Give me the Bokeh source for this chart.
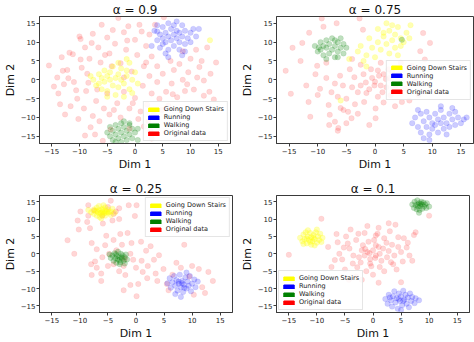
from bokeh.plotting import figure
from bokeh.layouts import column, row
from bokeh.models import Range1d, FixedTicker, CustomJSTickFormatter, Legend, LegendItem
from bokeh.embed import file_html
from bokeh.resources import INLINE

TITLES = ["α = 0.9", "α = 0.75", "α = 0.25", "α = 0.1"]
CLASS_NAMES = ["Going Down Stairs", "Running", "Walking", "Original data"]
TICKS = [-15, -10, -5, 0, 5, 10, 15]

# ---- panel 1 (alpha = 0.9) ----
P1_RED = [(-15.5,3.8),(-14.6,-1.8),(-13.8,-3.6),(-13.5,-6.5),(-13.2,6.0),(-13.0,2.4),(-12.6,-9.2),(-12.0,0.4),(-11.8,7.2),(-11.2,6.8),(-11.0,-0.6),(-10.6,-2.8),(-10.4,-5.0),(-10.2,-10.4),(-9.8,10.8),(-9.6,3.2),(-9.2,-7.6),(-9.0,8.6),(-8.8,-3.0),(-8.6,1.6),(-8.2,5.6),(-8.0,-12.6),(-7.6,12.2),(-7.6,-9.6),(-7.2,-14.5),(-7.0,-5.6),(-6.6,8.6),(-6.4,-11.0),(-6.2,4.6),(-6.0,14.6),(-5.8,-16.2),(-5.6,-7.6),(-5.0,11.2),(-5.0,-3.6),(-4.6,7.0),(-4.6,-9.2),(-4.0,13.2),(-3.6,9.6),(-3.2,-6.2),(-3.0,16.4),(-2.6,4.4),(-2.6,-10.0),(-2.0,12.6),(-2.0,-3.2),(-1.6,8.0),(-1.2,14.2),(-1.0,-7.6),(-0.6,2.2),(0.0,10.6),(0.0,-4.8),(0.4,6.6),(0.6,-10.4),(0.8,14.6),(1.4,-1.6),(1.6,3.6),(2.0,9.0),(2.2,-6.6),(2.6,12.0),(2.6,1.0),(3.0,-3.6),(3.0,6.2),(3.4,-9.2),(3.0,-15.6),(1.6,-12.4),(4.0,3.6),(4.0,-0.6),(4.4,-5.0),(5.0,1.6),(5.6,-3.2),(5.2,16.6),(6.4,5.0),(6.6,-1.0),(7.0,2.6),(7.6,-4.6),(8.0,4.2),(8.6,0.0),(9.6,2.0),(10.0,5.6),(10.6,-2.6),(11.2,0.6),(12.0,5.0),(12.4,-0.2),(13.0,8.6),(13.6,1.6),(13.4,-3.2),(14.6,4.6),(14.2,-5.2),(12.4,-4.2),(11.0,8.0),(-12.2,2.6),(-10.0,11.5),(-4.2,3.6),(-1.0,-13.0),(-9.0,-14.8),(4.8,-8.0),(6.0,-6.8),(9.0,-3.0),(8.6,7.6),(2.0,4.6),(-2.0,0.6),(-14.0,0.6),(-11.6,-7.0),(-8.4,-0.8),(-6.8,-2.6),(-5.4,6.6),(-3.8,-8.0),(-0.4,-6.2),(1.0,-8.4),(2.4,-11.0),(-1.4,10.4),(1.2,12.8),(3.6,14.6),(6.8,-3.8),(9.4,-1.2),(11.6,3.4),(-12.8,-1.2),(-9.8,5.4),(-7.8,9.8),(-4.4,-13.2),(2.8,-13.6)]
P1_YEL = [(-8.0,1.0),(-7.5,0.0),(-7.0,-1.5),(-6.5,1.5),(-6.0,0.5),(-6.0,-2.5),(-5.5,2.5),(-5.5,-0.5),(-5.0,1.0),(-5.0,-3.0),(-4.5,0.0),(-4.5,2.0),(-4.0,-1.5),(-4.0,3.5),(-3.5,0.5),(-3.5,-4.0),(-3.0,1.5),(-3.0,-2.0),(-2.5,0.0),(-2.5,3.0),(-2.0,-1.0),(-2.0,-4.5),(-1.5,1.0),(-1.5,2.5),(-1.0,-2.5),(-1.0,4.5),(-0.5,0.0),(0.0,2.0),(-0.5,-3.5),(-1.5,5.5),(-5.0,-4.5),(-6.5,-1.0),(0.5,-1.0),(13.5,10.5),(-3.0,4.5)]
P1_BLU = [(3.5,13.0),(4.0,14.5),(4.0,10.5),(4.5,12.0),(4.5,8.5),(5.0,14.0),(5.0,11.0),(5.0,9.5),(5.5,12.5),(5.5,10.0),(6.0,15.0),(6.0,11.5),(6.0,8.0),(6.5,13.5),(6.5,10.5),(7.0,12.0),(7.0,9.0),(7.0,14.5),(7.5,11.0),(7.5,13.0),(8.0,10.0),(8.0,8.0),(8.0,12.5),(8.5,11.5),(8.5,14.5),(9.0,9.5),(9.0,13.0),(9.5,11.0),(10.0,12.5),(10.0,10.0),(10.5,13.5),(11.0,11.5),(9.0,7.5),(6.0,6.0),(3.0,9.0),(7.5,15.5),(11.5,13.5),(5.5,7.0),(8.5,6.5),(4.0,12.8)]
P1_GRN = [(-4.5,-12.5),(-4.5,-15.0),(-4.0,-13.5),(-4.0,-16.0),(-3.5,-12.0),(-3.5,-14.5),(-3.0,-13.0),(-3.0,-15.5),(-2.5,-14.0),(-2.5,-11.5),(-2.0,-12.5),(-2.0,-15.0),(-1.5,-13.5),(-1.5,-16.0),(-1.0,-12.0),(-1.0,-14.5),(-0.5,-13.0),(-0.5,-15.5),(0.0,-14.0),(0.5,-16.0),(-2.0,-11.0),(-3.5,-16.5),(-1.0,-11.5),(0.5,-13.0),(-5.0,-14.0),(-2.5,-16.5)]

# ---- panel 2 (alpha = 0.75) ----
P2_RED = [(-15.6,2.4),(-14.7,-3.7),(-14.4,8.5),(-12.7,9.8),(-13.0,5.0),(-11.6,-5.9),(-11.3,-9.8),(-10.4,1.5),(-10.1,3.7),(-9.6,-2.4),(-9.3,16.3),(-9.0,14.1),(-8.1,-6.7),(-7.6,-3.3),(-7.9,-9.3),(-7.0,-11.1),(-6.4,-12.8),(-6.7,15.0),(-6.1,1.1),(-5.6,-1.5),(-5.0,-5.0),(-4.7,-8.5),(-4.1,-10.2),(-4.4,2.8),(-3.6,0.7),(-3.0,-3.3),(-2.7,16.3),(-2.1,13.3),(-1.9,-5.9),(-1.6,-0.7),(-0.7,2.8),(-0.1,-1.5),(0.1,-7.6),(0.1,-10.2),(0.7,1.1),(1.3,-3.3),(1.9,0.2),(2.4,2.8),(2.7,-4.1),(3.6,-1.5),(4.1,1.5),(4.7,-5.9),(5.3,-2.4),(6.4,3.7),(7.0,0.2),(7.9,7.6),(8.4,12.4),(8.7,5.4),(9.6,9.8),(7.6,-4.1),(-2.5,-1.5),(-2.0,1.5),(-1.0,-2.5),(-0.5,0.5),(0.0,-0.5),(0.5,2.5),(1.0,-1.5),(1.5,1.5),(2.0,-2.0),(2.5,0.5),(3.0,2.0),(-1.5,-3.5),(0.5,-4.5),(-3.5,-6.5),(-5.5,-8.0),(-6.5,-4.5),(-8.5,0.5),(-6.0,-7.5),(-3.0,-9.0),(-1.0,-12.0),(3.5,-7.0),(1.5,-6.0),(-4.0,-2.0),(-7.0,-1.0),(-12.0,-1.5),(-8.5,4.5),(-2.5,4.0),(4.5,4.5),(-6.5,-13.5),(-5.0,-11.5),(-8.0,-12.0),(6.0,-5.5),(-10.0,-4.0),(-11.5,12.5),(-4.0,5.5),(1.0,4.5)]
P2_YEL = [(4.0,14.0),(6.2,14.5),(2.5,13.0),(3.5,12.0),(1.5,11.5),(0.5,10.0),(2.0,9.5),(3.0,10.5),(4.5,11.0),(5.5,12.5),(1.0,8.0),(-0.5,8.5),(-1.5,6.5),(-2.0,5.0),(0.0,6.0),(3.5,8.5),(4.5,9.0),(5.0,10.0),(2.5,7.0),(1.5,12.5),(-1.0,11.0),(-2.5,9.0),(6.0,11.0),(3.0,14.5),(4.0,6.5),(0.5,13.5),(-3.0,7.5),(2.0,15.0),(-1.5,3.5),(-6.0,-5.5),(-4.5,5.5)]
P2_BLU = [(6.5,-11.5),(7.0,-10.0),(7.5,-12.5),(8.0,-9.0),(8.0,-14.0),(8.5,-11.0),(9.0,-12.5),(9.0,-8.5),(9.5,-10.0),(9.5,-14.5),(10.0,-11.5),(10.0,-13.0),(10.5,-9.0),(10.5,-12.0),(11.0,-10.5),(11.0,-14.0),(11.5,-11.5),(11.5,-8.0),(12.0,-13.0),(12.0,-10.0),(12.5,-11.5),(13.0,-9.0),(13.0,-12.5),(13.5,-10.5),(14.0,-12.0),(14.0,-8.5),(14.5,-10.0),(15.0,-11.5),(15.5,-10.5),(16.0,-10.0),(8.5,-15.5),(9.5,-16.0),(11.5,-7.0),(12.5,-14.5),(7.5,-8.0),(13.5,-7.5)]
P2_GRN = [(-10.5,9.0),(-10.0,7.5),(-9.5,10.0),(-9.5,8.0),(-9.0,9.0),(-9.0,6.5),(-8.5,10.5),(-8.5,8.5),(-8.0,7.0),(-8.0,9.5),(-7.5,11.0),(-7.5,8.0),(-7.0,9.0),(-7.0,6.0),(-6.5,10.0),(-6.5,7.5),(-6.0,8.5),(-6.0,11.0),(-5.5,9.5),(-5.5,7.0),(-5.0,8.5),(-8.5,5.5),(-7.0,10.5),(-6.5,6.0),(-9.8,8.6),(4.7,10.6)]

# ---- panel 3 (alpha = 0.25) ----
P3_RED = [(-12.2,3.9),(-11.0,0.0),(-10.4,9.6),(-9.9,12.2),(-8.7,9.2),(-8.5,14.0),(-10.2,7.0),(-8.2,7.4),(-7.9,3.1),(-7.9,-6.1),(-7.3,-2.2),(-7.0,1.3),(-6.2,-5.7),(-6.2,-7.8),(-5.9,8.7),(-5.3,5.2),(-4.8,0.0),(-4.5,15.3),(-4.2,9.6),(-3.6,12.2),(-3.0,13.1),(-2.8,5.7),(-2.5,2.6),(-2.2,-3.5),(-1.9,-6.1),(-2.2,-10.5),(-1.3,14.0),(-0.8,3.1),(-0.5,-1.7),(-0.2,10.9),(0.1,14.0),(0.4,-8.7),(0.1,-12.2),(0.9,3.5),(1.2,-5.2),(1.8,0.9),(2.1,-3.5),(2.6,2.2),(3.2,-1.7),(3.5,-5.7),(3.8,-7.8),(4.1,-0.4),(4.9,-4.4),(5.5,-8.7),(5.8,-10.5),(7.2,-2.6),(8.6,2.6),(10.0,-3.5),(11.2,-4.4),(11.8,-9.6),(12.9,-5.2),(13.7,-7.8),(12.3,-11.3),(10.3,-11.8),(-4.0,-3.0),(-3.5,1.0),(-1.0,0.0),(-6.0,-1.0),(-5.0,-3.5),(-3.0,-5.0),(0.0,-4.0),(-1.0,-9.0),(-2.0,-1.5),(-5.5,2.5),(-4.0,4.0),(-7.0,-4.0),(1.0,-2.0),(-1.5,6.0),(2.0,-7.0),(-8.0,-3.0),(-6.0,11.0),(-7.5,12.5),(-8.5,11.0),(-5.0,13.5),(-4.0,11.5),(-3.0,10.0),(6.5,-6.0),(8.0,-4.0),(9.5,-6.5)]
P3_YEL = [(-8.0,12.0),(-7.5,11.5),(-7.5,12.8),(-7.0,11.0),(-7.0,12.3),(-7.0,13.3),(-6.5,11.6),(-6.5,12.6),(-6.5,10.6),(-6.0,12.0),(-6.0,13.0),(-6.0,11.2),(-5.5,12.4),(-5.5,11.0),(-5.5,13.4),(-5.0,11.8),(-5.0,12.8),(-4.5,12.2),(-4.5,11.2),(-4.2,13.0),(-6.2,10.2),(-5.8,14.0),(-6.8,12.0),(-5.2,12.2),(-6.3,11.8),(-5.7,11.6),(-7.3,12.4),(-4.8,12.0),(-6.0,12.6),(-5.5,11.8),(-6.6,13.8),(-8.5,12.6),(-3.8,11.8)]
P3_BLU = [(5.6,-8.5),(6.0,-7.0),(6.2,-9.8),(6.5,-8.2),(6.8,-6.4),(7.0,-9.2),(7.2,-7.6),(7.4,-10.6),(7.6,-8.6),(7.8,-6.0),(8.0,-9.6),(8.2,-7.8),(8.4,-11.0),(8.5,-8.8),(8.8,-6.8),(9.0,-10.0),(9.2,-8.0),(9.4,-9.2),(9.6,-6.4),(9.8,-10.8),(10.0,-8.6),(10.4,-7.4),(10.6,-9.6),(7.0,-11.6),(8.0,-12.4),(9.0,-5.4),(11.0,-8.0),(8.6,-9.8),(7.6,-8.0),(8.2,-8.4)]
P3_GRN = [(-4.5,-1.2),(-4.2,-0.5),(-4.0,-2.0),(-3.8,0.2),(-3.7,-1.3),(-3.5,-2.6),(-3.4,-0.6),(-3.2,0.6),(-3.0,-1.8),(-3.0,-0.9),(-2.8,-2.4),(-2.7,0.0),(-2.5,-1.4),(-2.4,-0.4),(-2.2,-2.0),(-2.0,-1.0),(-1.8,-0.2),(-2.0,-2.8),(-3.3,-1.6),(-2.6,-1.0),(-3.6,-0.1),(-2.9,-3.0),(-4.7,-0.2),(-1.6,-1.6)]

# ---- panel 4 (alpha = 0.1) ----
P4_RED = [(-15.0,-0.3),(-9.2,10.1),(10.0,11.0),(7.6,6.2),(7.3,5.4),(-4.3,-7.5),(5.0,-8.2),(1.0,-8.3),(-7.4,-3.8),(-8.0,2.0),(-6.5,5.7),(-6.3,3.3),(4.0,8.4),(2.8,8.8),(-1.5,6.0),(0.5,5.3),(2.0,4.5),(4.5,4.8),(6.0,1.8),(5.3,-2.2),(3.2,-2.4),(3.6,-3.0),(-0.3,-3.6),(-2.8,-3.9),(-5.5,-1.6),(-4.2,1.5),(-2.0,1.0),(-1.5,-0.5),(0.5,2.5),(1.2,0.0),(2.5,-1.0),(-3.0,4.0),(6.5,-0.5),(-5.0,-4.5),(0.0,-6.0),(2.0,-5.0),(-3.0,-6.5),(4.5,2.0),(-6.0,0.0),(7.0,-2.0),(3.0,6.5),(-1.0,8.0),(1.0,7.5),(-4.0,7.0),(5.5,4.5),(-2.5,-1.0),(-1.0,0.5),(-0.5,-1.5),(0.0,1.0),(0.5,-0.5),(1.0,2.0),(1.5,-2.0),(-1.8,2.5),(-0.8,3.5),(0.2,4.0),(1.8,1.5),(-3.5,-0.5),(-2.2,-2.5),(-0.5,-2.8),(2.8,0.8),(3.8,-0.5),(-4.5,3.0),(-3.6,-2.8),(1.2,-3.8),(-1.2,-5.0),(2.4,3.2),(-5.2,1.8),(0.8,5.8),(-2.6,5.8),(5.0,0.5),(-6.8,-1.8),(4.2,-4.5),(-2.0,-7.5),(6.2,3.2),(-4.8,5.0),(3.4,2.6),(-1.4,1.4),(0.4,-1.2),(-0.6,0.2)]
P4_YEL = [(-13.0,4.6),(-12.6,3.6),(-12.4,5.6),(-12.2,4.2),(-12.0,6.2),(-11.8,3.0),(-11.6,5.0),(-11.4,4.0),(-11.2,6.0),(-11.0,2.6),(-11.0,4.8),(-10.8,3.6),(-10.6,5.4),(-10.4,4.2),(-10.2,6.2),(-10.0,3.2),(-9.8,5.0),(-9.6,4.0),(-9.4,5.8),(-9.2,3.4),(-11.6,6.8),(-10.0,7.0),(-12.4,2.8),(-9.0,4.6),(-11.2,3.4),(-10.6,4.6),(-11.8,4.4),(-10.4,2.4)]
P4_BLU = [(2.2,-13.0),(2.6,-14.4),(2.8,-11.8),(3.2,-13.4),(3.4,-15.2),(3.6,-12.2),(3.8,-10.8),(4.0,-14.0),(4.2,-12.8),(4.4,-15.8),(4.6,-11.4),(4.8,-13.6),(5.0,-12.2),(5.2,-14.8),(5.4,-10.6),(5.6,-13.2),(5.8,-11.8),(6.0,-14.4),(6.2,-12.6),(6.4,-15.4),(6.6,-11.4),(6.8,-13.6),(7.0,-12.4),(7.4,-14.2),(7.6,-12.8),(8.2,-13.4),(5.0,-16.2),(4.6,-13.0),(5.4,-13.6),(3.0,-12.6)]
P4_GRN = [(7.0,14.2),(7.3,13.2),(7.4,15.0),(7.6,14.0),(7.8,12.8),(7.9,15.4),(8.0,13.6),(8.2,14.6),(8.3,12.6),(8.4,13.8),(8.6,15.0),(8.7,14.2),(8.8,13.0),(9.0,14.8),(9.1,13.6),(9.3,14.2),(9.5,13.2),(9.6,14.6),(8.0,14.2),(8.5,14.4),(10.0,13.6),(8.2,11.8)]

COLORS = {"yel": "#ffff00", "blu": "#0000ff", "grn": "#008000", "red": "#ff0000"}
ALPHAS = {"yel": 0.3, "blu": 0.2, "grn": 0.25, "red": 0.16}
FONT = "DejaVu Sans"
AXC = "#3a3a3a"
NAN = float("nan")


def make_panel(title, red, yel, blu, grn, loc, w, h, bl, br, bt, bb):
    p = figure(width=w, height=h, x_range=Range1d(-17.2, 17.2), y_range=Range1d(-16.9, 16.8),
               output_backend="svg", toolbar_location=None,
               min_border_left=bl, min_border_right=br, min_border_top=bt, min_border_bottom=bb)
    p.title.text = title
    p.title.align = "center"
    p.title.text_font = FONT
    p.title.text_font_size = "12px"
    p.title.text_font_style = "normal"
    p.title.text_color = "#111111"
    p.title.standoff = 0
    p.grid.visible = False
    p.outline_line_color = AXC
    p.outline_line_alpha = 1.0
    fmt = CustomJSTickFormatter(code="return tick < 0 ? '\u2212' + (-tick) : '' + tick;")
    for ax in (p.xaxis, p.yaxis):
        ax.ticker = FixedTicker(ticks=TICKS)
        ax.formatter = fmt
        ax.major_label_text_font = FONT
        ax.major_label_text_font_size = "7px"
        ax.major_label_text_color = "#222222"
        ax.major_label_standoff = 1
        ax.major_tick_out = 3
        ax.major_tick_in = 0
        ax.minor_tick_out = 0
        ax.minor_tick_in = 0
        ax.axis_line_color = AXC
        ax.major_tick_line_color = AXC
        ax.axis_label_text_font = FONT
        ax.axis_label_text_font_size = "11px"
        ax.axis_label_text_font_style = "normal"
        ax.axis_label_text_color = "#111111"
        ax.axis_label_standoff = 1
    p.xaxis.axis_label = "Dim 1"
    p.yaxis.axis_label = "Dim 2"

    for key, pts in (("red", red), ("yel", yel), ("blu", blu), ("grn", grn)):
        p.scatter([a for a, b in pts], [b for a, b in pts], size=5.5, marker="circle",
                  fill_color=COLORS[key], fill_alpha=ALPHAS[key],
                  line_color=COLORS[key], line_alpha=ALPHAS[key] * 0.6, line_width=0.6)

    items = []
    for key, name in zip(("yel", "blu", "grn", "red"), CLASS_NAMES):
        r = p.rect(x=[NAN], y=[NAN], width=1, height=1, fill_color=COLORS[key], line_color=COLORS[key])
        items.append(LegendItem(label=name, renderers=[r]))
    leg = Legend(items=items, location=loc, margin=2, padding=3, spacing=0,
                 label_text_font=FONT, label_text_font_size="6.5px", label_text_color="#222222",
                 label_height=8, glyph_height=5, glyph_width=13, label_standoff=4,
                 border_line_color="#cccccc", background_fill_alpha=0.85)
    p.add_layout(leg)
    return p


p1 = make_panel(TITLES[0], P1_RED, P1_YEL, P1_BLU, P1_GRN, "bottom_right", 237, 179, 28, 7, 13, 36)
p2 = make_panel(TITLES[1], P2_RED, P2_YEL, P2_BLU, P2_GRN, "right", 237, 179, 36, 1, 14, 36)
p3 = make_panel(TITLES[2], P3_RED, P3_YEL, P3_BLU, P3_GRN, "top_right", 237, 163, 30, 5, 14, 19)
p4 = make_panel(TITLES[3], P4_RED, P4_YEL, P4_BLU, P4_GRN, "bottom_left", 237, 163, 36, 5, 14, 19)

layout = column(row(p1, p2), row(p3, p4))
open("out.html", "w", encoding="utf-8").write(file_html(layout, INLINE))
